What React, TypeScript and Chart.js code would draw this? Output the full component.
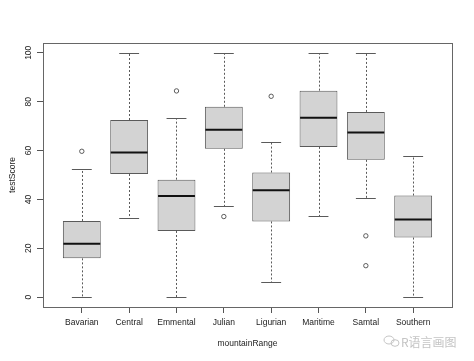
import React, { useEffect, useRef } from "react";
import { Chart, registerables } from "chart.js";

Chart.register(...registerables);

const categories = ["Bavarian", "Central", "Emmental", "Julian", "Ligurian", "Maritime", "Samtal", "Southern"];
const lowerWhisker = [0, 32.3, 0, 37.4, 6.2, 33.3, 40.4, 0];
const q1 = [15.9, 50.4, 27.1, 60.7, 31.0, 61.5, 56.2, 24.4];
const median = [21.9, 59.2, 41.4, 68.5, 43.8, 73.4, 67.4, 31.8];
const q3 = [31.2, 72.5, 48.1, 77.9, 51.0, 84.5, 75.8, 41.6];
const upperWhisker = [52.5, 100, 73.3, 100, 63.3, 100, 100, 57.7];
const outlierCategory = [1, 3, 4, 5, 7, 7];
const outlierValue = [59.7, 84.4, 33.0, 82.2, 25.1, 12.9];
const yTicks = [0, 20, 40, 60, 80, 100];
const xTitle = "mountainRange";
const yTitle = "testScore";
const watermark = "R语言画图";

const FONT = "'Liberation Sans', Arial, sans-serif";

const boxPlugin = {
  id: "boxExtras",
  afterDatasetsDraw(chart: any) {
    const { ctx, chartArea, scales } = chart;
    const xs = scales.x;
    const ys = scales.y;
    ctx.save();
    categories.forEach((_, i) => {
      const cx = Math.round(xs.getPixelForValue(i + 1)) + 0.5;
      const capL = xs.getPixelForValue(i + 1 - 0.21);
      const capR = xs.getPixelForValue(i + 1 + 0.21);
      const yMin = Math.round(ys.getPixelForValue(lowerWhisker[i])) + 0.5;
      const yMax = Math.round(ys.getPixelForValue(upperWhisker[i])) + 0.5;
      const yQ1 = ys.getPixelForValue(q1[i]);
      const yQ3 = ys.getPixelForValue(q3[i]);
      ctx.strokeStyle = "#5a5a5a";
      ctx.lineWidth = 1;
      ctx.setLineDash([2, 2]);
      ctx.beginPath();
      ctx.moveTo(cx, yQ3);
      ctx.lineTo(cx, yMax);
      ctx.moveTo(cx, yQ1);
      ctx.lineTo(cx, yMin);
      ctx.stroke();
      ctx.setLineDash([]);
      ctx.beginPath();
      ctx.moveTo(capL, yMax);
      ctx.lineTo(capR, yMax);
      ctx.moveTo(capL, yMin);
      ctx.lineTo(capR, yMin);
      ctx.stroke();
      const mL = xs.getPixelForValue(i + 1 - 0.4);
      const mR = xs.getPixelForValue(i + 1 + 0.4);
      const yMed = ys.getPixelForValue(median[i]);
      ctx.strokeStyle = "#111";
      ctx.lineWidth = 2;
      ctx.beginPath();
      ctx.moveTo(mL + 0.5, yMed);
      ctx.lineTo(mR - 0.5, yMed);
      ctx.stroke();
    });
    ctx.strokeStyle = "#666";
    ctx.lineWidth = 1;
    ctx.strokeRect(
      Math.round(chartArea.left) + 0.5,
      Math.round(chartArea.top) + 0.5,
      Math.round(chartArea.right - chartArea.left),
      Math.round(chartArea.bottom - chartArea.top)
    );
    ctx.fillStyle = "#222";
    ctx.font = `8.5px ${FONT}`;
    ctx.textAlign = "center";
    ctx.textBaseline = "middle";
    yTicks.forEach((v) => {
      const y = ys.getPixelForValue(v);
      ctx.save();
      ctx.translate(28.5, y);
      ctx.rotate(-Math.PI / 2);
      ctx.fillText(String(v), 0, 0);
      ctx.restore();
    });
    ctx.save();
    ctx.translate(12.5, (chartArea.top + chartArea.bottom) / 2);
    ctx.rotate(-Math.PI / 2);
    ctx.fillText(yTitle, 0, 0);
    ctx.restore();
    ctx.fillText(xTitle, (chartArea.left + chartArea.right) / 2, 344);
    ctx.fillStyle = "#c4c4c4";
    ctx.strokeStyle = "#c4c4c4";
    ctx.font = `12px 'Noto Sans CJK SC', sans-serif`;
    ctx.textAlign = "left";
    ctx.fillText(watermark, 401, 342);
    ctx.lineWidth = 1;
    ctx.beginPath();
    ctx.ellipse(389, 340, 5, 4, 0, 0, Math.PI * 2);
    ctx.stroke();
    ctx.beginPath();
    ctx.ellipse(395, 343, 4, 3.3, 0, 0, Math.PI * 2);
    ctx.stroke();
    ctx.restore();
  },
};

export default function App() {
  const ref = useRef<HTMLCanvasElement | null>(null);
  useEffect(() => {
    document.body.style.margin = "0";
    const canvas = ref.current;
    if (!canvas) return;
    const chart = new Chart(canvas, {
      type: "bar",
      data: {
        datasets: [
          {
            type: "bar",
            data: categories.map((_, i) => ({ x: i + 1, y: [q1[i], q3[i]] })) as any,
            backgroundColor: "#d3d3d3",
            borderColor: "#5a5a5a",
            borderWidth: 1,
            borderSkipped: false,
            barPercentage: 0.8,
            categoryPercentage: 1,
          } as any,
          {
            type: "scatter",
            data: outlierCategory.map((c, i) => ({ x: c, y: outlierValue[i] })),
            pointStyle: "circle",
            pointRadius: 2.2,
            pointBorderWidth: 1,
            pointBorderColor: "#5a5a5a",
            pointBackgroundColor: "rgba(0,0,0,0)",
            showLine: false,
          } as any,
        ],
      },
      options: {
        animation: false,
        responsive: false,
        devicePixelRatio: 1,
        layout: { padding: { top: 43, right: 22, left: 0, bottom: 0 } },
        plugins: { legend: { display: false }, tooltip: { enabled: false } },
        scales: {
          x: {
            type: "linear",
            offset: false,
            min: 0.18,
            max: 8.82,
            afterBuildTicks: (s: any) => {
              s.ticks = categories.map((_, i) => ({ value: i + 1 }));
            },
            afterFit: (s: any) => {
              s.height = 54;
            },
            ticks: {
              autoSkip: false,
              maxRotation: 0,
              minRotation: 0,
              padding: 5,
              color: "#222",
              font: { family: FONT, size: 8.5 },
              callback: (v: any) => categories[Math.round(v) - 1] ?? "",
            },
            grid: { display: true, offset: false, drawOnChartArea: false, drawTicks: true, tickLength: 6, color: "#555" },
            border: { display: false },
          },
          y: {
            type: "linear",
            min: -4,
            max: 104,
            afterBuildTicks: (s: any) => {
              s.ticks = yTicks.map((v) => ({ value: v }));
            },
            afterFit: (s: any) => {
              s.width = 43;
            },
            ticks: { color: "rgba(0,0,0,0)", font: { family: FONT, size: 8.5 } },
            grid: { display: true, drawOnChartArea: false, drawTicks: true, tickLength: 6, color: "#555" },
            border: { display: false },
          },
        },
      } as any,
      plugins: [boxPlugin],
    });
    return () => chart.destroy();
  }, []);
  return <canvas ref={ref} width={474} height={361} style={{ display: "block" }} />;
}
